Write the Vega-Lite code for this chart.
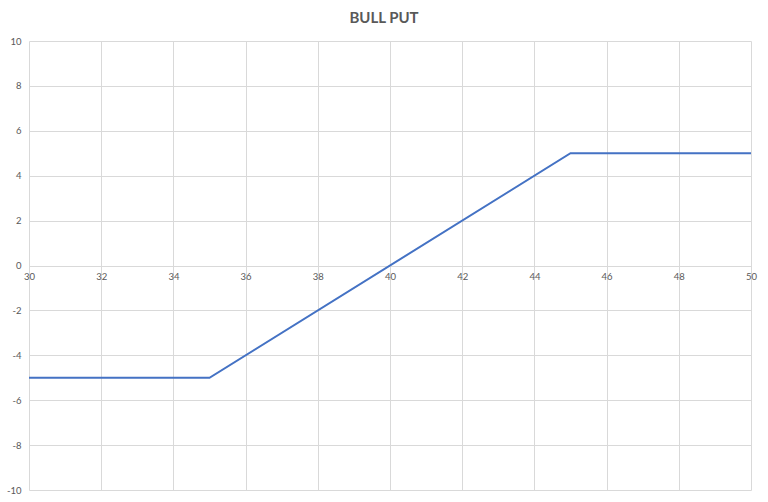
{
  "$schema": "https://vega.github.io/schema/vega-lite/v6.json",
  "width": 722,
  "height": 449,
  "autosize": {"type": "none"},
  "padding": {"left": 29, "top": 41, "right": 17, "bottom": 12},
  "background": "white",
  "title": {
    "text": "BULL PUT",
    "font": "Lato",
    "fontSize": 15,
    "fontWeight": "bold",
    "color": "#595959",
    "offset": 10,
    "dx": -6,
    "anchor": "middle"
  },
  "config": {
    "view": {"stroke": null},
    "axis": {"gridColor": "#d9d9d9", "gridWidth": 1, "labelFont": "Lato", "labelColor": "#595959", "labelFontSize": 9.5, "domain": false, "ticks": false, "title": null, "labelFlush": false, "labelOverlap": false}
  },
  "data": {
    "values": [
      {"price": 30, "pl": -5},
      {"price": 35, "pl": -5},
      {"price": 45, "pl": 5},
      {"price": 50, "pl": 5}
    ]
  },
  "mark": {"type": "line", "color": "#4472C4", "strokeWidth": 2},
  "encoding": {
    "x": {
      "field": "price",
      "type": "quantitative",
      "scale": {"domain": [30, 50], "nice": false, "zero": false},
      "axis": {"values": [30, 32, 34, 36, 38, 40, 42, 44, 46, 48, 50], "offset": -224.5, "labelPadding": 6, "labelExpr": "datum.value + ''"}
    },
    "y": {
      "field": "pl",
      "type": "quantitative",
      "scale": {"domain": [-10, 10], "nice": false},
      "axis": {"values": [-10, -8, -6, -4, -2, 0, 2, 4, 6, 8, 10], "labelPadding": 8, "labelExpr": "datum.value + ''"}
    }
  }
}
